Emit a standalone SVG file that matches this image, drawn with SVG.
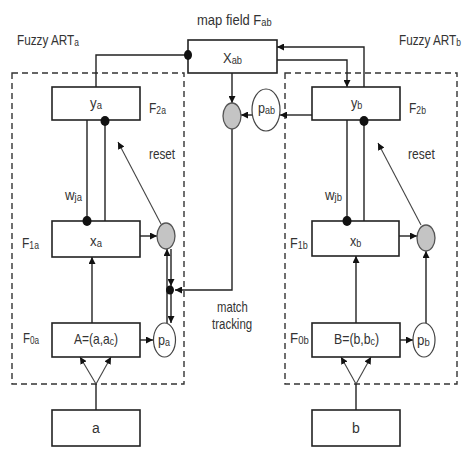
<svg xmlns="http://www.w3.org/2000/svg" width="474" height="460" viewBox="0 0 474 460">
<style>
.t{font-family:"Liberation Sans",Arial,sans-serif;font-size:14px;fill:#333}
.s{font-size:10px}
.box{fill:#fff;stroke:#222;stroke-width:1.6}
.dash{fill:none;stroke:#333;stroke-width:1.4;stroke-dasharray:6 4}
.ln{fill:none;stroke:#222;stroke-width:1.4}
.thin{fill:none;stroke:#444;stroke-width:1.1}
.gc{fill:#c4c4c4;stroke:#555;stroke-width:1.3}
.oc{fill:#fff;stroke:#444;stroke-width:1.2}
.dot{fill:#111}
.arr{marker-end:url(#ah)}
</style>
<defs>
<marker id="ah" viewBox="0 0 10 10" refX="10" refY="5" markerWidth="7" markerHeight="7" markerUnits="userSpaceOnUse" orient="auto">
<path d="M0,0 L10,5 L0,10 Z" fill="#111"/>
</marker>
</defs>
<rect width="474" height="460" fill="#fff"/>
<g id="artA-frame"><rect class="dash" x="12" y="73" width="172" height="311"/></g>
<g id="artB-frame"><rect class="dash" x="285" y="73" width="172" height="311"/></g>
<g id="connectors">
<path class="ln" d="M96,87 V55 H188"/>
<path class="ln arr" d="M232,73 V103"/>
<path class="ln arr" d="M364,87 V47 H277"/>
<path class="ln arr" d="M277,60 H347 V87"/>
<path class="ln arr" d="M312,115 H280"/>
<path class="ln arr" d="M252,115 H241"/>
<path class="ln arr" d="M232,129 V290 H175"/>
<path class="ln" d="M87,120 V221"/>
<path class="ln" d="M105,121 V221"/>
<path class="ln arr" d="M140,236 H157"/>
<path class="thin arr" d="M161,224 L118,142"/>
<path class="ln arr" d="M167,323 V249"/>
<path class="ln arr" d="M171,249 V286"/>
<path class="ln arr" d="M171,294 V323"/>
<path class="ln arr" d="M140,340 H153"/>
<path class="ln arr" d="M92,323 V257"/>
<path class="ln" d="M96,410 V384"/>
<path class="thin arr" d="M96,384 L80,357"/>
<path class="thin arr" d="M96,384 L111,357"/>
<path class="ln" d="M347,120 V221"/>
<path class="ln" d="M364,121 V221"/>
<path class="ln arr" d="M399,236 H417"/>
<path class="thin arr" d="M421,225 L378,143"/>
<path class="ln arr" d="M356,323 V256"/>
<path class="ln arr" d="M426,323 V251"/>
<path class="ln arr" d="M400,340 H413"/>
<path class="ln" d="M356,410 V384"/>
<path class="thin arr" d="M356,384 L341,357"/>
<path class="thin arr" d="M356,384 L371,357"/>
</g>
<g id="map-field"><rect class="box" x="188" y="40" width="89" height="33"/><text class="t" transform="translate(223,63) scale(0.93,1)">X<tspan class="s" dy="1">ab</tspan></text></g>
<g id="map-dot"><ellipse class="dot" cx="188" cy="55" rx="4" ry="5"/></g>
<g id="map-compare"><ellipse class="gc" cx="232" cy="116" rx="9" ry="13"/></g>
<g id="pab"><ellipse class="oc" cx="266" cy="110" rx="14" ry="21"/><text class="t" transform="translate(258,113) scale(0.9,1)">p<tspan class="s" dy="1">ab</tspan></text></g>
<g id="F2a"><rect class="box" x="52" y="87" width="88" height="33"/><text class="t" transform="translate(90,108) scale(0.95,1)">y<tspan class="s" dy="1">a</tspan></text></g>
<g id="F2a-dot"><ellipse class="dot" cx="105" cy="121" rx="4.5" ry="5"/></g>
<g id="F1a"><rect class="box" x="52" y="221" width="88" height="36"/><text class="t" transform="translate(90,246) scale(0.95,1)">x<tspan class="s" dy="1">a</tspan></text></g>
<g id="F1a-dot"><ellipse class="dot" cx="87" cy="221" rx="4.5" ry="5"/></g>
<g id="compare-a"><ellipse class="gc" cx="166" cy="236" rx="9" ry="13"/></g>
<g id="match-dot"><ellipse class="dot" cx="170" cy="290" rx="4" ry="4.5"/></g>
<g id="F0a"><rect class="box" x="52" y="323" width="88" height="34"/><text class="t" transform="translate(74,344) scale(0.86,1)">A=(a,a<tspan class="s" dy="1">c</tspan><tspan dy="-1">)</tspan></text></g>
<g id="pa"><ellipse class="oc" cx="164.5" cy="340" rx="11" ry="17"/><text class="t" transform="translate(158,345) scale(0.9,1)">p<tspan class="s" dy="1">a</tspan></text></g>
<g id="input-a"><rect class="box" x="52" y="410" width="88" height="36"/><text class="t" x="92" y="433">a</text></g>
<g id="F2b"><rect class="box" x="312" y="87" width="88" height="33"/><text class="t" transform="translate(351,108) scale(0.9,1)">y<tspan class="s" dy="1">b</tspan></text></g>
<g id="F2b-dot"><ellipse class="dot" cx="364" cy="121" rx="4.5" ry="5"/></g>
<g id="F1b"><rect class="box" x="312" y="221" width="87" height="35"/><text class="t" transform="translate(350,246) scale(0.9,1)">x<tspan class="s" dy="1">b</tspan></text></g>
<g id="F1b-dot"><ellipse class="dot" cx="347" cy="221" rx="4.5" ry="5"/></g>
<g id="compare-b"><ellipse class="gc" cx="426" cy="238" rx="9" ry="13"/></g>
<g id="F0b"><rect class="box" x="312" y="323" width="88" height="34"/><text class="t" transform="translate(334,344) scale(0.88,1)">B=(b,b<tspan class="s" dy="1">c</tspan><tspan dy="-1">)</tspan></text></g>
<g id="pb"><ellipse class="oc" cx="424" cy="340" rx="11" ry="17"/><text class="t" transform="translate(417,345) scale(0.95,1)">p<tspan class="s" dy="1">b</tspan></text></g>
<g id="input-b"><rect class="box" x="312" y="410" width="88" height="36"/><text class="t" x="352" y="433">b</text></g>
<g id="labels">
<text class="t" transform="translate(17,45) scale(0.84,1)">Fuzzy ART<tspan class="s" dy="1">a</tspan></text>
<text class="t" transform="translate(197,25) scale(0.93,1)">map field F<tspan class="s" dy="1">ab</tspan></text>
<text class="t" transform="translate(399,45) scale(0.84,1)">Fuzzy ART<tspan class="s" dy="1">b</tspan></text>
<text class="t" transform="translate(149,113) scale(0.86,1)">F<tspan class="s" dy="1">2a</tspan></text>
<text class="t" transform="translate(409,113) scale(0.86,1)">F<tspan class="s" dy="1">2b</tspan></text>
<text class="t" transform="translate(149,159) scale(0.84,1)">reset</text>
<text class="t" transform="translate(408,159) scale(0.86,1)">reset</text>
<text class="t" transform="translate(65,200) scale(0.95,1)">w<tspan class="s" dy="1">ja</tspan></text>
<text class="t" transform="translate(325,200) scale(0.95,1)">w<tspan class="s" dy="1">jb</tspan></text>
<text class="t" transform="translate(22,248) scale(0.86,1)">F<tspan class="s" dy="1">1a</tspan></text>
<text class="t" transform="translate(290,248) scale(0.9,1)">F<tspan class="s" dy="1">1b</tspan></text>
<text class="t" transform="translate(217,312) scale(0.81,1)">match</text>
<text class="t" transform="translate(212,329) scale(0.82,1)">tracking</text>
<text class="t" transform="translate(23,343) scale(0.82,1)">F<tspan class="s" dy="1">0a</tspan></text>
<text class="t" transform="translate(290,343) scale(0.95,1)">F<tspan class="s" dy="1">0b</tspan></text>
</g>
</svg>
